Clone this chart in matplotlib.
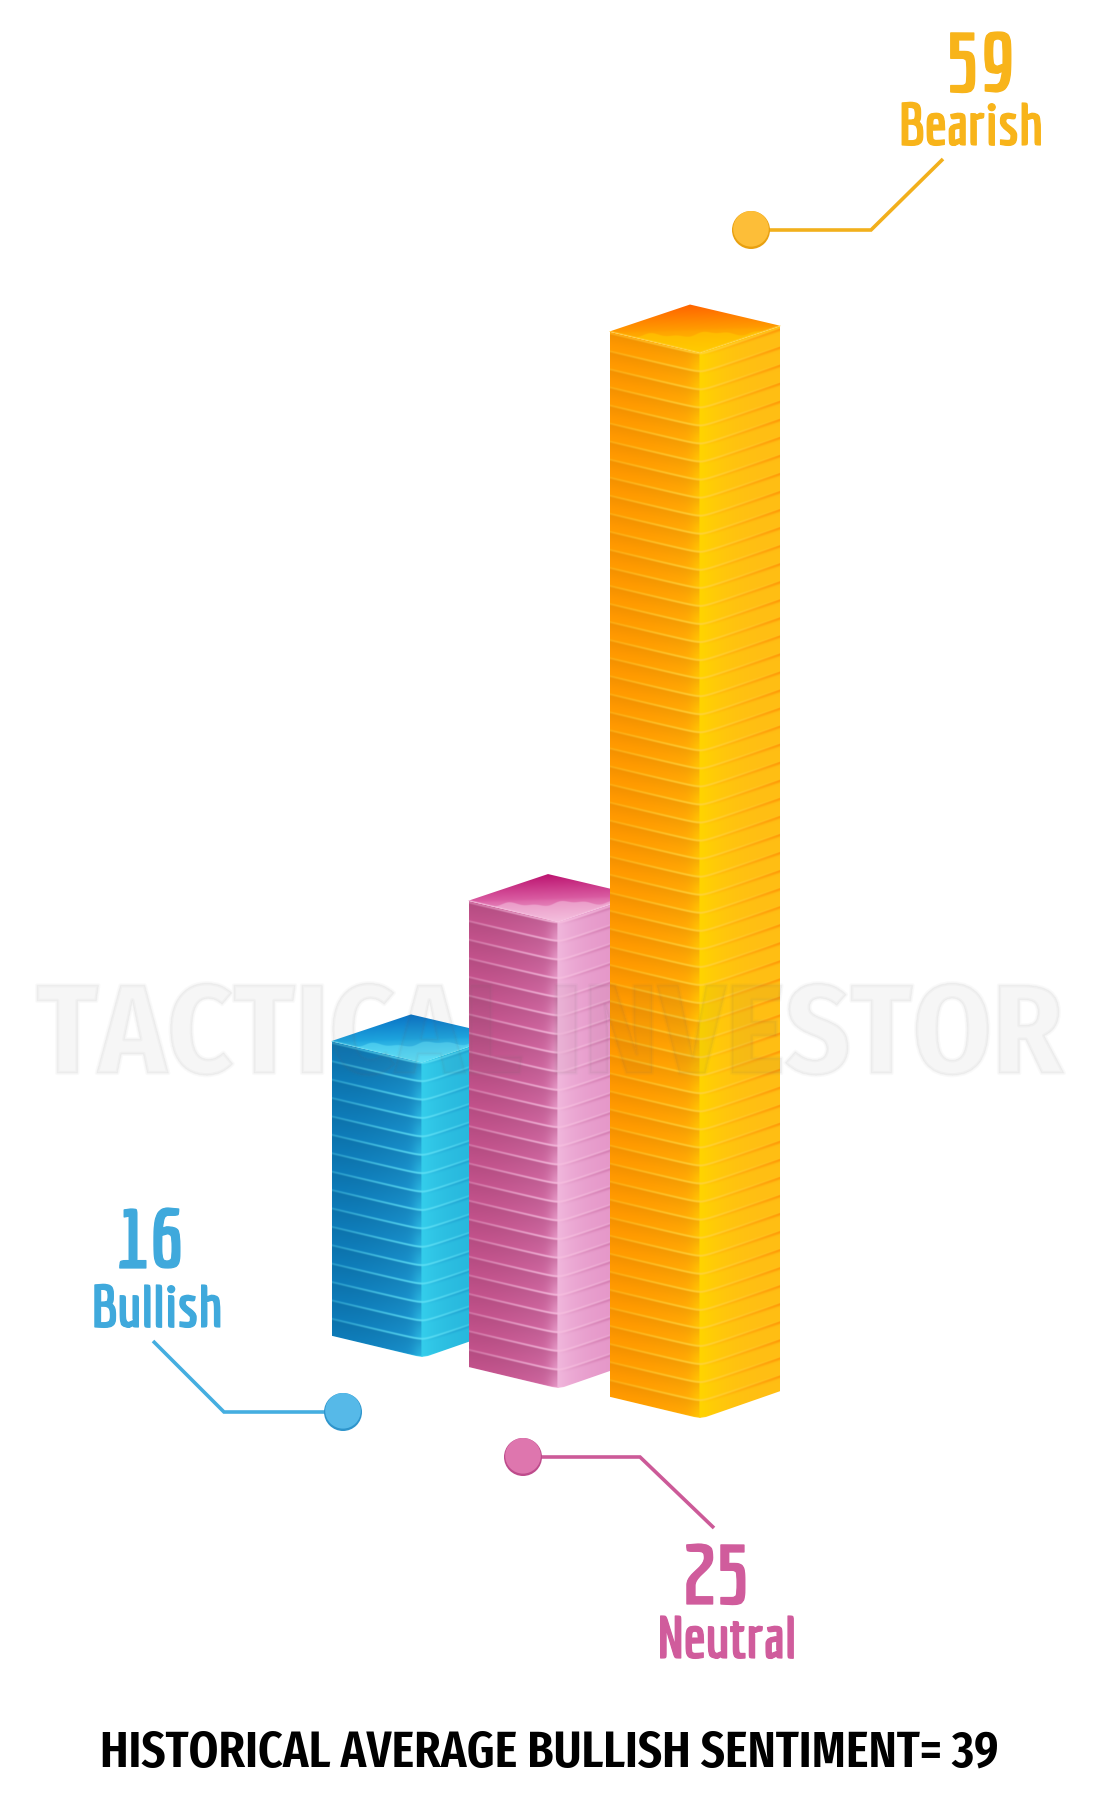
import numpy as np
import matplotlib
matplotlib.use('Agg')
import matplotlib.pyplot as plt
from matplotlib.colors import to_rgb
from matplotlib.font_manager import FontProperties
from matplotlib.patches import Polygon, Circle
from matplotlib.textpath import TextPath
import matplotlib.patheffects as pe

# ---- data ----
categories = ['Bullish', 'Neutral', 'Bearish']
values = [16, 25, 59]
title = 'HISTORICAL AVERAGE BULLISH SENTIMENT= 39'
watermark = 'TACTICAL INVESTOR'

# ---- layout (pixels of the 1101x1805 canvas) ----
W, H = 1101, 1805
PITCH = [18.4, 18.64, 18.05]        # height of one unit (one slab)
X_LEFT = [331, 468, 609]
X_FRONT = [422, 558, 700]
X_RIGHT = [502, 638, 781]
Y_BASE = [1357, 1388, 1418]
SLOPE_L = 0.235
SLOPE_R = 0.335

# ---- colours ----
PALETTE = {
    'Bullish': dict(l_out='#0D78B4', l_in='#1B92CC', r_in='#34CDEB', r_out='#27B6DC',
                    line='#5FE0F5', top_dark='#0A72C4', top_mid='#1FA8E0', top_light='#62DFF6',
                    edge='#0F82BE', text='#3FA9DC', ball='#56B9E8', rim='#2E95CC', lead='#45AEE0'),
    'Neutral': dict(l_out='#BE5088', l_in='#CE6AA2', r_in='#F0B6DC', r_out='#E596C8',
                    line='#F6BEDF', top_dark='#BC1470', top_mid='#DC62A6', top_light='#F4C0DE',
                    edge='#BE5A94', text='#D05C9C', ball='#DE76AE', rim='#BE4C8C', lead='#CC5A98'),
    'Bearish': dict(l_out='#FF9800', l_in='#FFAA06', r_in='#FFD400', r_out='#FFBE14',
                    line='#FFD23C', top_dark='#FF6400', top_mid='#FFA000', top_light='#FFCC00',
                    edge='#FF8A00', text='#F8B41A', ball='#FDBE38', rim='#E8A010', lead='#F2B01C'),
}
LABEL_POS = {  # centre x, baseline y of number and name
    'Bullish': (149, 1268, 157, 1327),
    'Neutral': (716, 1604, 727, 1658),
    'Bearish': (980, 92, 971, 145),
}
LEADER = {  # ball, elbow, end
    'Bullish': [(343, 1412), (224, 1412), (153, 1341)],
    'Neutral': [(523, 1457), (640, 1457), (714, 1528)],
    'Bearish': [(751, 230), (871, 230), (943, 159)],
}
LABEL_FONT = ['Economica', 'DejaVu Sans']
TITLE_FONT = ['Fira Sans Extra Condensed', 'DejaVu Sans']
MARK_FONT = ['Fira Sans Condensed', 'DejaVu Sans']


def rgb(c):
    return np.array(to_rgb(c))


def blend(a, b, t):
    t = np.clip(t, 0, 1)[..., None]
    return a * (1 - t) + b * t


def points_for_cap(family, px):
    """Font size in points whose capital letters are px pixels tall at dpi 100."""
    fp = FontProperties(family=family[0], weight='bold')
    cap = TextPath((0, 0), 'H', prop=fp, size=100).get_extents().height / 100
    return px / cap * 0.72


def grid(x0, x1, y0, y1, ss=3):
    xs = np.arange(int(x0) - 1, int(x1) + 2, 1 / ss)
    ys = np.arange(int(y0) - 1, int(y1) + 2, 1 / ss)
    X, Y = np.meshgrid(xs, ys)
    return X, Y, (xs[0], xs[-1], ys[-1], ys[0])


def side_face(ax, pal, xo, xf, yt, yb, slope, pitch, is_left, z):
    """One side of a bar: repeating slabs seen in perspective."""
    sign = 1 if is_left else -1
    w = abs(xf - xo)
    rise = w * slope
    X, Y, ext = grid(min(xo, xf), max(xo, xf), yt - rise, yb)
    near = np.abs(xf - X)
    u = 1 - near / w
    rounded = np.sqrt(near ** 2 + 36.0) - 6.0        # rounded corner of every slab
    s = (Y - (yt - rounded * slope)) / pitch
    v = s - np.floor(s)
    a = rgb(pal['l_out'] if is_left else pal['r_out'])
    b = rgb(pal['l_in'] if is_left else pal['r_in'])
    img = blend(a, b, u ** (1.6 if is_left else 2.6))
    if is_left:
        img = img * (0.95 + 0.08 * v)[..., None]
    else:
        edge = rgb(pal['edge'])
        band = np.exp(-((v - 0.06) / 0.10) ** 2) * (1 - u) ** 0.9
        img = blend(img, edge, 0.7 * band)
    glow = np.exp(-(near / (9.0 if is_left else 6.0)) ** 2)
    img = blend(img, rgb(pal['r_in']), (0.6 if is_left else 0.4) * glow * (0.3 + 0.7 * v))
    d = np.minimum(v, 1 - v) * pitch
    line = np.exp(-((d - 0.3) / 0.8) ** 2)
    img = blend(img, rgb(pal['line']), 0.85 * line * ((0.35 + 0.65 * u) if is_left else u ** 0.8))
    im = ax.imshow(np.clip(img, 0, 1), extent=ext, aspect='auto', zorder=z, interpolation='antialiased')
    xin = xf + sign * 0.6
    pts = [(xo, yt - rise), (xin, yt), (xin, yb),
           (xf - sign * 6, yb - 1.0), (xo, yb - rise)]
    im.set_clip_path(Polygon(pts, closed=True, transform=ax.transData))


def top_face(ax, pal, xl, xf, xr, yt, z):
    L = np.array([xl, yt - (xf - xl) * SLOPE_L])
    R = np.array([xr, yt - (xr - xf) * SLOPE_R])
    F = np.array([xf, yt])
    A = L + R - F
    X, Y, ext = grid(xl, xr, A[1], yt)
    m = np.linalg.inv(np.column_stack([L - A, R - A]))
    p = X - A[0], Y - A[1]
    a = m[0, 0] * p[0] + m[0, 1] * p[1]
    b = m[1, 0] * p[0] + m[1, 1] * p[1]
    d = (a + b) / 2
    img = blend(rgb(pal['top_dark']), rgb(pal['top_mid']), d / 0.55)
    img = blend(img, rgb(pal['top_light']), (d - 0.5) / 0.5)
    wave = 0.60 + 0.035 * np.sin((a - b) * 9.0) + 0.02 * np.sin((a - b) * 21.0)
    blob = np.clip((d - wave) / 0.02, 0, 1) * (d < 0.97)
    img = blend(img, rgb(pal['top_light']), 0.55 * blob)
    rim = np.clip((np.maximum(a, b) - 0.965) / 0.02, 0, 1)
    img = blend(img, rgb(pal['line']), 0.8 * rim)
    im = ax.imshow(np.clip(img, 0, 1), extent=ext, aspect='auto', zorder=z, interpolation='antialiased')
    im.set_clip_path(Polygon([A, L, F, R], closed=True, transform=ax.transData))


fig = plt.figure(figsize=(W / 100, H / 100), dpi=100, facecolor='white')
ax = fig.add_axes([0, 0, 1, 1])
ax.axis('off')

size_number = points_for_cap(LABEL_FONT, 60)
size_name = points_for_cap(LABEL_FONT, 42)

for i, (cat, val) in enumerate(zip(categories, values)):
    pal = PALETTE[cat]
    yb = Y_BASE[i]
    yt = yb - val * PITCH[i]
    z = 2 + i
    side_face(ax, pal, X_LEFT[i], X_FRONT[i], yt, yb, SLOPE_L, PITCH[i], True, z)
    side_face(ax, pal, X_RIGHT[i], X_FRONT[i], yt, yb, SLOPE_R, PITCH[i], False, z)
    top_face(ax, pal, X_LEFT[i], X_FRONT[i], X_RIGHT[i], yt, z)

    (bx, by), elbow, end = LEADER[cat]
    ax.plot([bx, elbow[0], end[0]], [by, elbow[1], end[1]], color=pal['lead'], lw=2.6,
            solid_joinstyle='miter', solid_capstyle='butt', zorder=6)
    ax.add_patch(Circle((bx, by), 19, fc=pal['rim'], ec='none', zorder=7))
    ax.add_patch(Circle((bx, by - 1.2), 17.8, fc=pal['ball'], ec='none', zorder=8))

    heavier = [pe.withStroke(linewidth=0.9, foreground=pal['text'])]
    nx, ny, tx, ty = LABEL_POS[cat]
    ax.text(nx, ny, str(val), color=pal['text'], family=LABEL_FONT, fontweight='bold',
            fontsize=size_number, ha='center', va='baseline', zorder=9, path_effects=heavier)
    ax.text(tx, ty, cat, color=pal['text'], family=LABEL_FONT, fontweight='bold',
            fontsize=size_name, ha='center', va='baseline', zorder=9, path_effects=heavier)

ax.text(549, 1767, title, color='black', family=TITLE_FONT, fontweight='semibold',
        fontsize=37.3, ha='center', va='baseline', zorder=9)

grey = (0.45, 0.45, 0.45)
ax.text(550, 1073, watermark, family=MARK_FONT, fontweight='bold', fontsize=91,
        color=grey + (0.015,), ha='center', va='baseline', zorder=10,
        path_effects=[pe.Stroke(linewidth=3, foreground=grey + (0.04,)),
                      pe.Stroke(linewidth=1, foreground=grey + (0.05,)),
                      pe.Normal()])

ax.set_xlim(0, W)
ax.set_ylim(H, 0)
fig.savefig('out.png', dpi=100, facecolor='white')
